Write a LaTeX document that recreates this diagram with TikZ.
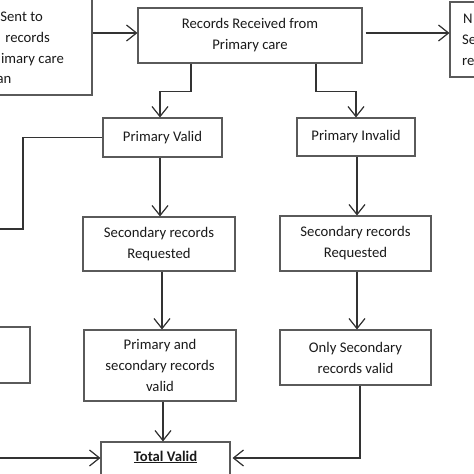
\documentclass[tikz,border=0pt]{standalone}
\usepackage{fontspec}
\setmainfont{Carlito}
\usetikzlibrary{arrows.meta}
\definecolor{boxgray}{HTML}{5A5A5A}
\definecolor{linegray}{HTML}{333333}
\definecolor{txt}{HTML}{1A1A1A}
\begin{document}
\begin{tikzpicture}[x=1pt,y=-1pt,
  font=\fontsize{14.7}{21}\selectfont, text=txt,
  boxnode/.style={draw=boxgray, line width=1.1pt, inner sep=0pt, align=center, fill=white},
  conn/.style={draw=linegray, line width=1.3pt},
  arr/.style={conn, -{Straight Barb[length=10pt,width=16pt,line width=1.2pt]}},
  frag/.style={inner sep=0pt}
]
\useasboundingbox (0,0) rectangle (474,474);
\clip (0,0) rectangle (474,474);
\fill[white] (0,0) rectangle (474,474);

% boxes
\node[boxnode, minimum width=152pt, minimum height=96pt] (tl) at (16,47) {};
\node[boxnode, minimum width=224pt, minimum height=55pt] (rec) at (250,35.5) {Records Received from\\Primary care};
\node[boxnode, minimum width=80pt, minimum height=75pt] (nr) at (490,39.5) {};
\node[boxnode, minimum width=119pt, minimum height=39pt] (pv) at (162.5,137.5) {Primary Valid};
\node[boxnode, minimum width=118pt, minimum height=38pt] (pi) at (356,137) {Primary Invalid};
\node[boxnode, minimum width=152pt, minimum height=54pt] (srl) at (159,244) {Secondary records\\Requested};
\node[boxnode, minimum width=151pt, minimum height=55pt] (srr) at (355.5,243.5) {Secondary records\\Requested};
\node[boxnode, minimum width=152pt, minimum height=71pt] (psv) at (160,365.5) {Primary and\\secondary records\\valid};
\node[boxnode, minimum width=151pt, minimum height=55pt] (osv) at (355.5,357.5) {Only Secondary\\records valid};
\node[boxnode, minimum width=129pt, minimum height=48pt] (tv) at (165.5,466) {};
\node[frag] (tvlabel) at (165.5,457) {\underline{\textbf{Total Valid}}};
\node[boxnode, minimum width=90pt, minimum height=56pt] (lb) at (-15,355) {};

% text fragments of partly visible boxes
\node[frag, anchor=base east] (tl1) at (43,21) {Sent to};
\node[frag, anchor=base east] (tl2) at (50,42.5) {records};
\node[frag, anchor=base east] (tl3) at (64,63) {imary care};
\node[frag, anchor=base east] (tl4) at (11.5,83.5) {an};
\node[frag, anchor=base west] (nr1) at (463,23) {N};
\node[frag, anchor=base west] (nr2) at (462,44.5) {Se};
\node[frag, anchor=base west] (nr3) at (462,65.5) {re};

% free ends
\coordinate (lfree) at (-5,229);
\coordinate (lfree2) at (-5,458);

% connectors
\draw[arr] (tl.east |- 0,33) -- (rec.west |- 0,33);
\draw[arr] ([xshift=3pt]rec.east |- 0,33) -- (nr.west |- 0,33);
\draw[arr] ([xshift=-59pt]rec.south) -- ++(0,28) -| ([xshift=-2.5pt]pv.north);
\draw[arr] ([xshift=66pt]rec.south) -- ++(0,28) -| (pi.north);
\draw[conn] (pv.west) -| ([xshift=28pt]lfree) -- (lfree);
\draw[arr] ([xshift=-2.5pt]pv.south) -- ([xshift=-2.5pt]pv.south |- srl.north);
\draw[arr] ([xshift=1pt]pi.south) -- ([xshift=1pt]pi.south |- srr.north);
\draw[arr] ([xshift=3pt]srl.south) -- ([xshift=3pt]srl.south |- psv.north);
\draw[arr] ([xshift=1.5pt]srr.south) -- ([xshift=1.5pt]srr.south |- osv.north);
\draw[arr] ([xshift=3pt]psv.south) -- ([xshift=3pt]psv.south |- tv.north);
\draw[arr] ([xshift=4.5pt]osv.south) |- ([xshift=2pt]tv.east |- lfree2);
\draw[arr] (lfree2) -- (tv.west |- lfree2);
\end{tikzpicture}
\end{document}
